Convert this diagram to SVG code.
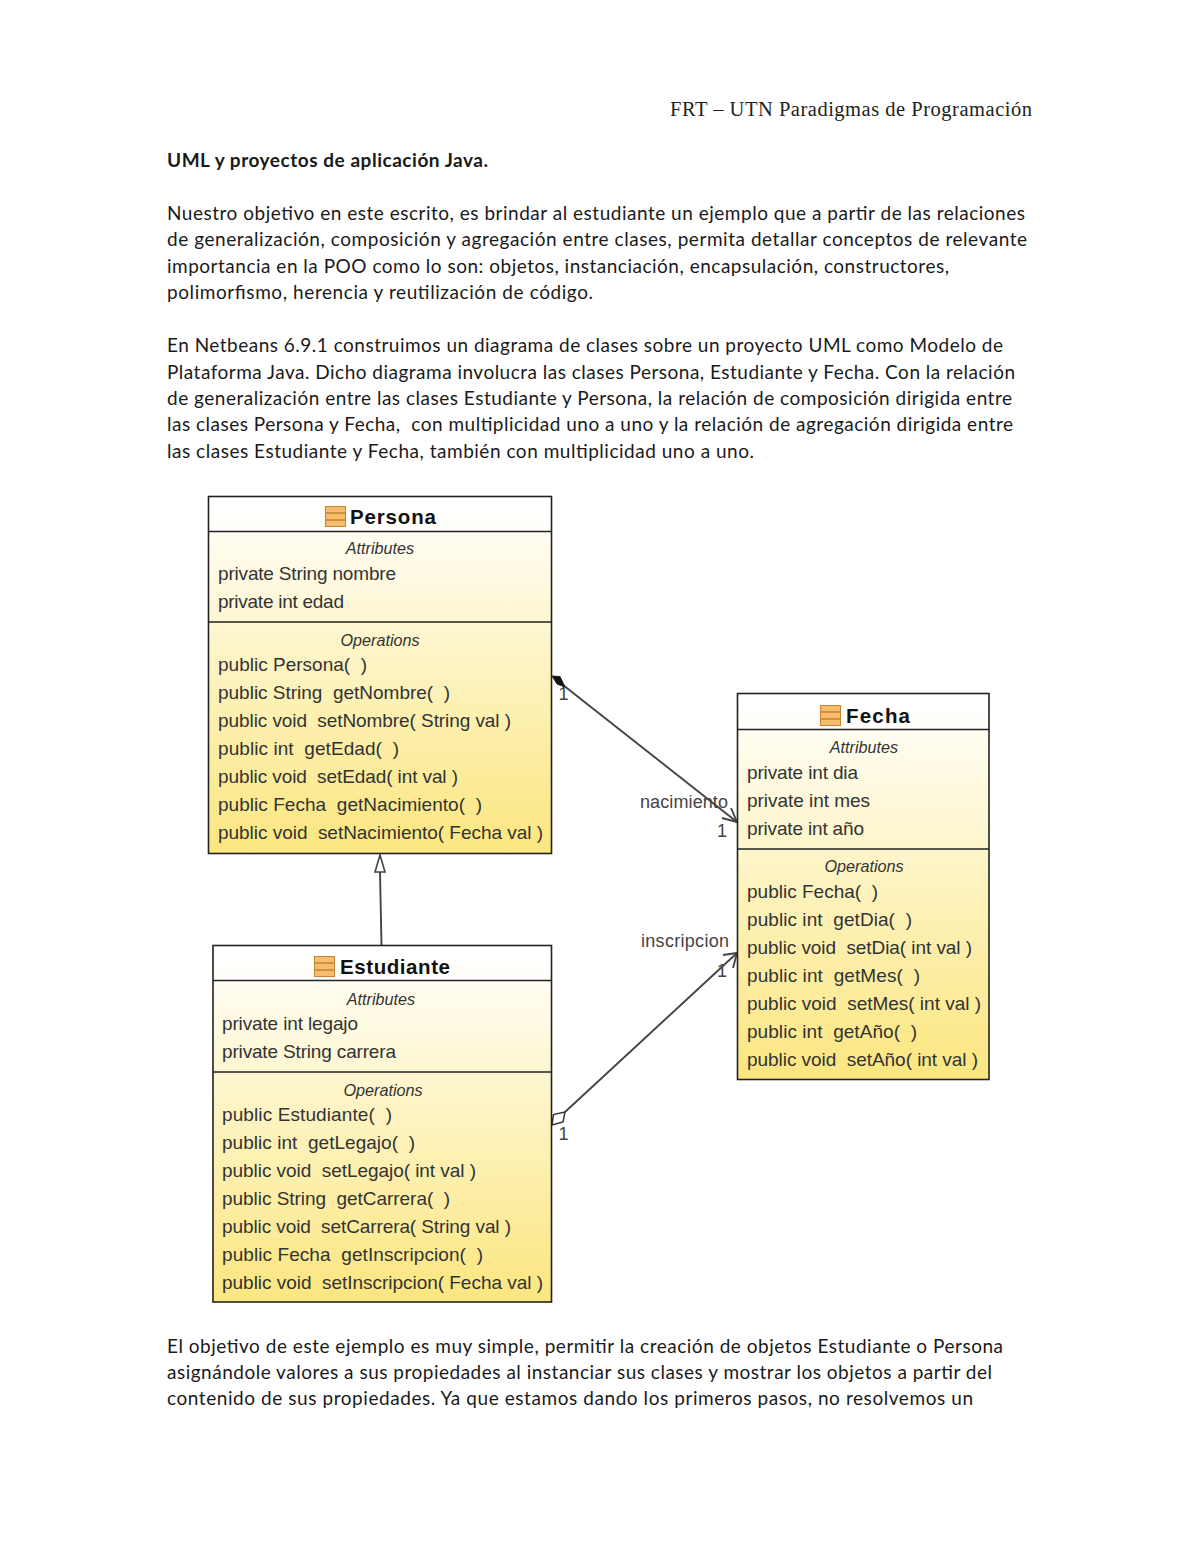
<svg xmlns="http://www.w3.org/2000/svg" width="1200" height="1553" viewBox="0 0 1200 1553">
<style>
.doc{font-family:Lato,"Open Sans",sans-serif;font-size:19px;fill:#1a1a1a}
.docb{font-family:Lato,"Open Sans",sans-serif;font-size:19px;fill:#1a1a1a;font-weight:700}
.hdr{font-family:"Liberation Serif",serif;font-size:20.5px;fill:#222}
.t{font-family:"Liberation Sans",Arial,sans-serif;font-size:19px;fill:#333}
.s{font-family:"Liberation Sans",Arial,sans-serif;font-size:16.200px;font-style:italic;fill:#333;text-anchor:middle}
.n{font-family:"Liberation Sans",Arial,sans-serif;font-size:20.5px;font-weight:700;fill:#111}
.l{font-family:"Liberation Sans",Arial,sans-serif;font-size:18px;fill:#444}
.box{fill:url(#g);stroke:none}
.head{fill:url(#h);stroke:none}
.o{fill:none;stroke:#222;stroke-width:1.6}
.c{fill:none;stroke:#444;stroke-width:1.900}
</style>
<defs>
<linearGradient id="g" x1="0" y1="0" x2="0" y2="1"><stop offset="0" stop-color="#fffdf2"/><stop offset="1" stop-color="#fbe67f"/></linearGradient>
<linearGradient id="h" x1="0" y1="0" x2="0" y2="1"><stop offset="0" stop-color="#ffffff"/><stop offset="1" stop-color="#fffefa"/></linearGradient>
<g id="icon">
<rect x="0.5" y="0.5" width="20" height="20" fill="#f6bd6e" stroke="#c98430"/>
<path d="M1 7H20M1 14H20" stroke="#c98430" stroke-width="1.5" fill="none"/>
</g>
</defs>
<rect width="1200" height="1553" fill="#fff"/>
<g id="page-text">
<text class="hdr" x="670" y="116" textLength="362">FRT – UTN Paradigmas de Programación</text>
<text class="docb" x="167" y="167" textLength="321">UML y proyectos de aplicación Java.</text>
<text class="doc" x="167" y="220" textLength="858">Nuestro objetivo en este escrito, es brindar al estudiante un ejemplo que a partir de las relaciones</text>
<text class="doc" x="167" y="246" textLength="860">de generalización, composición y agregación entre clases, permita detallar conceptos de relevante</text>
<text class="doc" x="167" y="272.500" textLength="782">importancia en la POO como lo son: objetos, instanciación, encapsulación, constructores,</text>
<text class="doc" x="167" y="299" textLength="426">polimorfismo, herencia y reutilización de código.</text>
<text class="doc" x="167" y="352" textLength="836">En Netbeans 6.9.1 construimos un diagrama de clases sobre un proyecto UML como Modelo de</text>
<text class="doc" x="167" y="378.500" textLength="848">Plataforma Java. Dicho diagrama involucra las clases Persona, Estudiante y Fecha. Con la relación</text>
<text class="doc" x="167" y="405" textLength="845">de generalización entre las clases Estudiante y Persona, la relación de composición dirigida entre</text>
<text class="doc" x="167" y="431" textLength="846" xml:space="preserve">las clases Persona y Fecha,  con multiplicidad uno a uno y la relación de agregación dirigida entre</text>
<text class="doc" x="167" y="458" textLength="587">las clases Estudiante y Fecha, también con multiplicidad uno a uno.</text>
<text class="doc" x="167" y="1353" textLength="836">El objetivo de este ejemplo es muy simple, permitir la creación de objetos Estudiante o Persona</text>
<text class="doc" x="167" y="1379" textLength="825">asignándole valores a sus propiedades al instanciar sus clases y mostrar los objetos a partir del</text>
<text class="doc" x="167" y="1405" textLength="806">contenido de sus propiedades. Ya que estamos dando los primeros pasos, no resolvemos un</text>
</g>
<g id="connectors">
<path class="c" d="M381.5 945L380 872"/>
<path d="M380 855L385 872H375Z" fill="#fff" stroke="#444" stroke-width="1.6"/>
<path class="c" d="M563 685L737 822"/>
<path d="M552 676L560 676.5L565 687L557 684Z" fill="#111" stroke="#222"/>
<path class="c" d="M722 818L737 822L731 808"/>
<path class="c" d="M565 1112L737 953"/>
<path d="M552 1125L553.5 1114.5L565 1112L563 1122Z" fill="#fff" stroke="#333" stroke-width="1.5"/>
<path class="c" d="M723 955L737 953L733 968"/>
<text class="l" x="558.500" y="700">1</text>
<text class="l" x="640" y="808" textLength="88">nacimiento</text>
<text class="l" x="717" y="837">1</text>
<text class="l" x="641" y="947" textLength="88">inscripcion</text>
<text class="l" x="717" y="977">1</text>
<text class="l" x="558.500" y="1140">1</text>
</g>
<g id="Persona">
<rect class="head" x="208.500" y="496.500" width="343" height="35"/>
<rect class="box" x="208.500" y="531.500" width="343" height="322"/>
<rect class="o" x="208.500" y="496.500" width="343" height="357"/>
<path class="o" d="M208.500 531.500H551.500M208.500 622H551.500"/>
<use href="#icon" x="325" y="506"/>
<text class="n" x="350" y="524" textLength="86">Persona</text>
<text class="s" x="380" y="554">Attributes</text>
<text class="t" x="218" y="580" textLength="178">private String nombre</text>
<text class="t" x="218" y="608" textLength="126">private int edad</text>
<text class="s" x="380" y="646">Operations</text>
<text class="t" x="218" y="671" textLength="149" xml:space="preserve">public Persona(  )</text>
<text class="t" x="218" y="699" textLength="232" xml:space="preserve">public String  getNombre(  )</text>
<text class="t" x="218" y="727" textLength="293" xml:space="preserve">public void  setNombre( String val )</text>
<text class="t" x="218" y="755" textLength="181" xml:space="preserve">public int  getEdad(  )</text>
<text class="t" x="218" y="783" textLength="240" xml:space="preserve">public void  setEdad( int val )</text>
<text class="t" x="218" y="811" textLength="264" xml:space="preserve">public Fecha  getNacimiento(  )</text>
<text class="t" x="218" y="839" textLength="325" xml:space="preserve">public void  setNacimiento( Fecha val )</text>
</g>
<g id="Estudiante">
<rect class="head" x="213" y="945.500" width="338.500" height="35"/>
<rect class="box" x="213" y="980.500" width="338.500" height="321.500"/>
<rect class="o" x="213" y="945.500" width="338.500" height="356.500"/>
<path class="o" d="M213 980.500H551.500M213 1072H551.500"/>
<use href="#icon" x="314" y="956"/>
<text class="n" x="340" y="974" textLength="110">Estudiante</text>
<text class="s" x="381" y="1005">Attributes</text>
<text class="t" x="222" y="1030" textLength="136">private int legajo</text>
<text class="t" x="222" y="1058" textLength="174">private String carrera</text>
<text class="s" x="383" y="1096">Operations</text>
<text class="t" x="222" y="1121" textLength="170" xml:space="preserve">public Estudiante(  )</text>
<text class="t" x="222" y="1149" textLength="193" xml:space="preserve">public int  getLegajo(  )</text>
<text class="t" x="222" y="1177" textLength="254" xml:space="preserve">public void  setLegajo( int val )</text>
<text class="t" x="222" y="1205" textLength="228" xml:space="preserve">public String  getCarrera(  )</text>
<text class="t" x="222" y="1233" textLength="289" xml:space="preserve">public void  setCarrera( String val )</text>
<text class="t" x="222" y="1261" textLength="261" xml:space="preserve">public Fecha  getInscripcion(  )</text>
<text class="t" x="222" y="1289" textLength="321" xml:space="preserve">public void  setInscripcion( Fecha val )</text>
</g>
<g id="Fecha">
<rect class="head" x="737.500" y="693.500" width="251.500" height="36"/>
<rect class="box" x="737.500" y="729.500" width="251.500" height="350"/>
<rect class="o" x="737.500" y="693.500" width="251.500" height="386"/>
<path class="o" d="M737.500 729.500H989M737.500 849H989"/>
<use href="#icon" x="820" y="705"/>
<text class="n" x="846" y="723" textLength="64">Fecha</text>
<text class="s" x="864" y="753">Attributes</text>
<text class="t" x="747" y="779" textLength="111">private int dia</text>
<text class="t" x="747" y="807" textLength="123">private int mes</text>
<text class="t" x="747" y="835" textLength="117">private int año</text>
<text class="s" x="864" y="872">Operations</text>
<text class="t" x="747" y="898" textLength="131" xml:space="preserve">public Fecha(  )</text>
<text class="t" x="747" y="926" textLength="165" xml:space="preserve">public int  getDia(  )</text>
<text class="t" x="747" y="954" textLength="225" xml:space="preserve">public void  setDia( int val )</text>
<text class="t" x="747" y="982" textLength="173" xml:space="preserve">public int  getMes(  )</text>
<text class="t" x="747" y="1010" textLength="234" xml:space="preserve">public void  setMes( int val )</text>
<text class="t" x="747" y="1038" textLength="170" xml:space="preserve">public int  getAño(  )</text>
<text class="t" x="747" y="1066" textLength="231" xml:space="preserve">public void  setAño( int val )</text>
</g>
</svg>
